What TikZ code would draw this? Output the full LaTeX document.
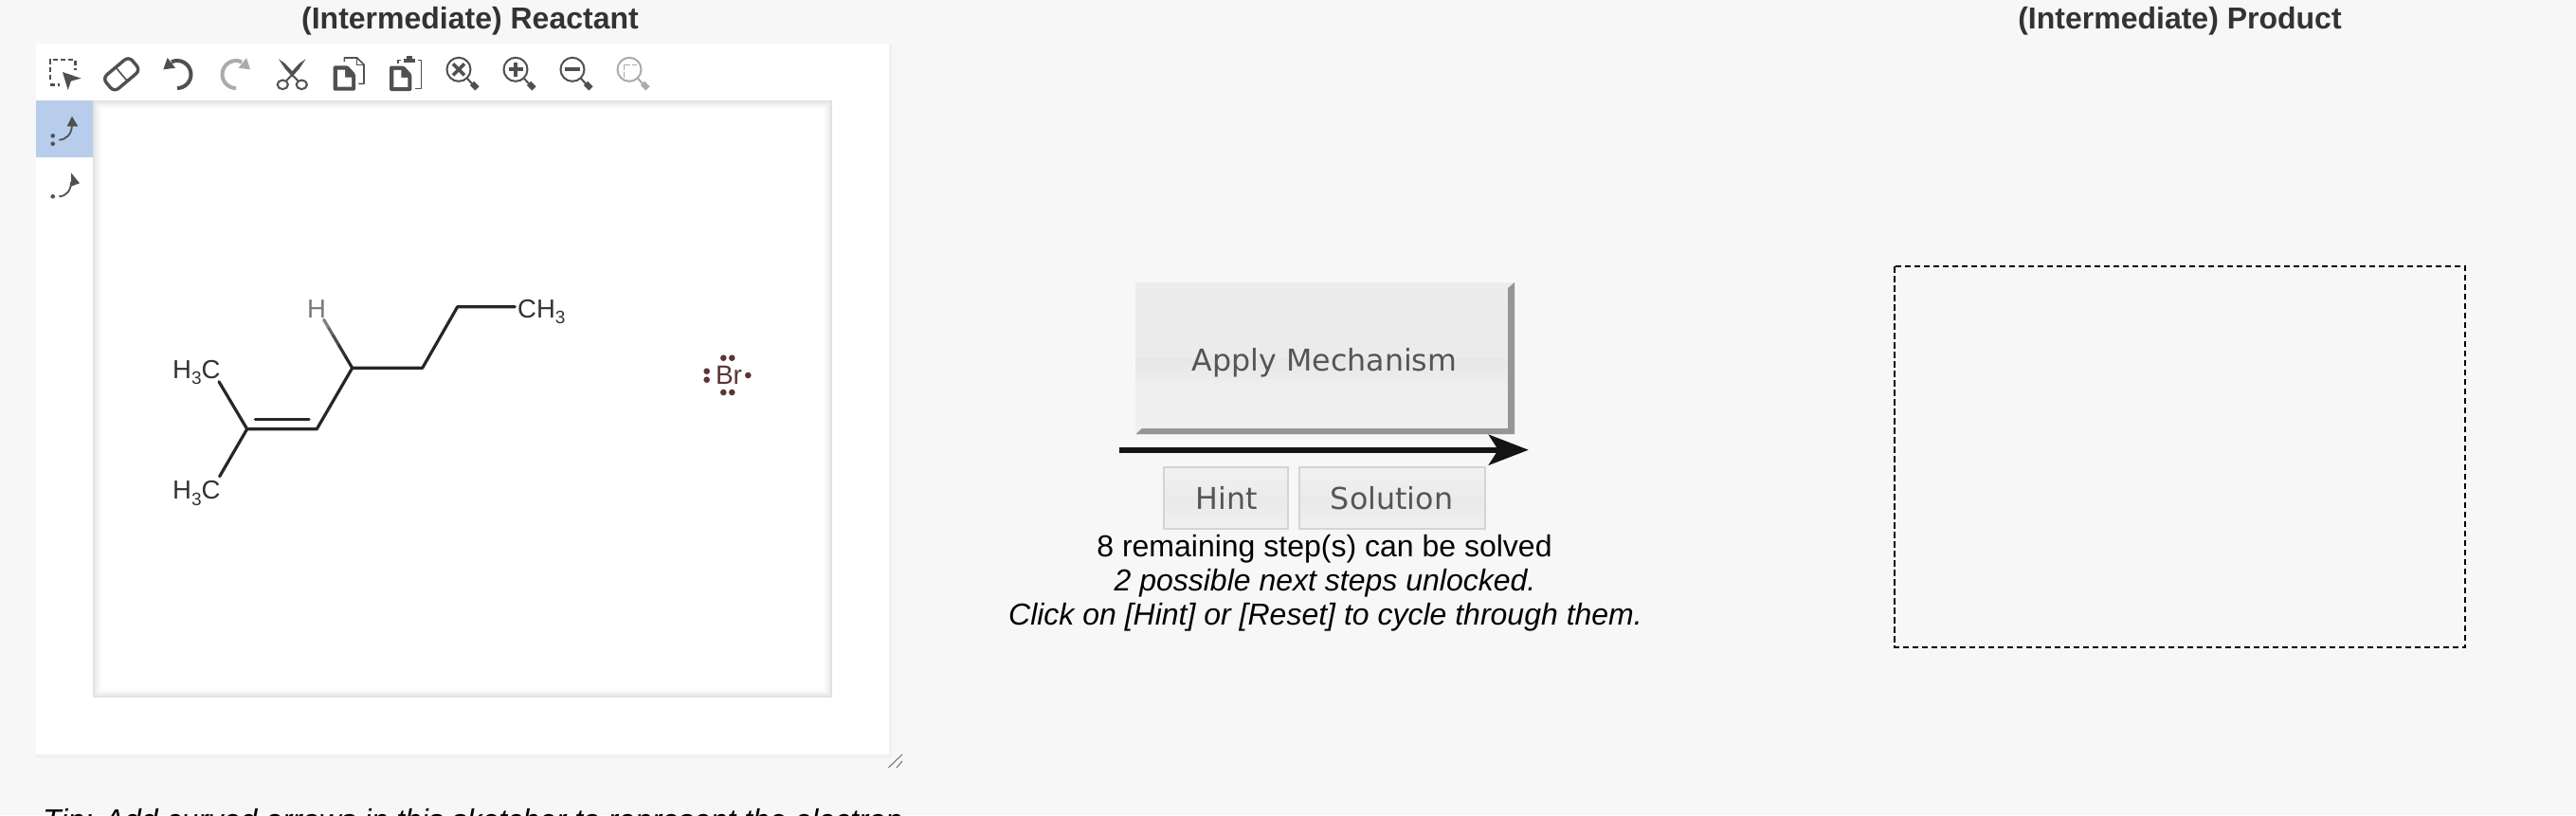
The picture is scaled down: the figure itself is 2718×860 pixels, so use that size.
\documentclass[tikz,border=0pt]{standalone}
\usepackage{fontspec}
\setmainfont{Liberation Sans}
\newfontfamily\dejavu{DejaVu Sans}
\usetikzlibrary{arrows.meta,calc}
\definecolor{pagebg}{HTML}{F7F7F7}
\definecolor{icondark}{HTML}{505050}
\definecolor{icongrey}{HTML}{ABABAB}
\definecolor{titlecol}{HTML}{333333}
\definecolor{btntext}{HTML}{555555}
\definecolor{brcol}{HTML}{5B3535}
\definecolor{selblue}{HTML}{B8CDEC}
\definecolor{atomcol}{HTML}{333333}
\newcommand{\sbt}[1]{\raisebox{-.24em}{\fontsize{19}{19}\selectfont #1}}
\newcommand{\magglass}[2]{%
  \draw[#2,line width=2pt] (#1,73.3) circle[radius=12.5];
  \draw[#2,line width=2pt] (#1+9,73.3+9.5) -- (#1+14,73.3+15);
  \draw[#2,line width=6pt] (#1+14,73.3+14.5) -- (#1+19.5,73.3+20);
}
\tikzset{
  title/.style={font=\bfseries\fontsize{32}{36}\selectfont,text=titlecol,inner sep=0pt,anchor=base},
  btnlabel/.style={font=\dejavu\fontsize{31.7}{36}\selectfont,text=btntext,inner sep=0pt,anchor=base},
  msgline/.style={font=\fontsize{32}{36}\selectfont,text=black,inner sep=0pt,anchor=base},
  msgital/.style={msgline,font=\itshape\fontsize{32}{36}\selectfont},
  atom/.style={font=\fontsize{27.5}{30}\selectfont,text=atomcol,inner sep=0pt,anchor=base west},
  bond/.style={line width=3.2pt,line cap=round,line join=round,draw=black!85},
  lpdot/.style={fill=brcol,draw=none},
  ico/.style={fill=icondark,draw=none},
  icl/.style={draw=icondark,fill=none}
}
\begin{document}
\begin{tikzpicture}[x=1pt,y=-1pt]
\useasboundingbox (0,0) rectangle (2718,860);
\clip (0,0) rectangle (2718,860);
\fill[pagebg] (0,0) rectangle (2718,860);

% ---------- sketcher panel ----------
\fill[black!6] (38,46) rectangle (941,800);
\fill[white] (38,46) rectangle (938,796);
\fill[selblue] (38,106) rectangle (98,166);
% canvas with inset shadow
\foreach \i in {0,...,11}{
  \pgfmathsetmacro\c{12*(1-\i/12)^2}
  \fill[black!\c!white] (98+\i,106+\i) rectangle (878-\i,736-\i);
}

% ---------- titles ----------
\node[title] (reactant) at (496,30) {(Intermediate) Reactant};
\node[title] (product) at (2300,30) {(Intermediate) Product};

% ---------- toolbar ----------
% select
\draw[draw=icondark,line width=2.4pt,dash pattern=on 5pt off 3.2pt] (52.7,84) -- (52.7,62.7) -- (79.3,62.7) -- (79.3,74);
\draw[draw=icondark,line width=2.4pt,dash pattern=on 5pt off 3.2pt] (52.7,89.3) -- (63,89.3);
\fill[icondark] (66,76) -- (85.7,82.7) -- (75,85.5) -- (71.7,95) -- cycle;
% eraser
\begin{scope}[shift={(128.2,78.3)},rotate=40]
  \draw[icl,line width=3.4pt,rounded corners=6pt] (-18,-9.5) rectangle (18,9.5);
  \draw[icl,line width=1.6pt] (0,-9) -- (0,9);
\end{scope}
% undo
\draw[icl,line width=4pt] (187,93) arc[start angle=90,end angle=-115,radius=14.5];
\fill[icondark] (176.7,61) -- (172.3,73.3) -- (185,71.7) -- cycle;
% redo
\draw[draw=icongrey,line width=4pt] (249,93) arc[start angle=90,end angle=295,radius=14.5];
\fill[icongrey] (260,61) -- (264,73.3) -- (251.7,71.7) -- cycle;
% scissors
\foreach \s in {1,-1}{
\begin{scope}[shift={(308.3,0)},xscale=\s]
  \fill[icondark] (-14.3,62.3) -- (-7.5,67) -- (2.2,77.5) -- (-0.3,80.5) -- (-7.5,72.5) -- cycle;
  \draw[icl,line width=2pt] (-1,78) -- (6,85);
  \draw[icl,line width=2pt] (10,89.3) ellipse[x radius=5.6,y radius=4.8];
\end{scope}}
% copy
\draw[icl,line width=1.6pt,line join=round] (363.3,65) -- (363.3,61) -- (376.7,61) -- (384,68.3) -- (384,88.3) -- (378.3,88.3);
\draw[icl,line width=1.4pt] (376.7,61) -- (376.7,68.3) -- (384,68.3);
\fill[ico,rounded corners=1.5pt] (351.7,69.3) -- (367,69.3) -- (375,78) -- (375,95.7) -- (351.7,95.7) -- cycle;
\fill[white] (356,73.5) -- (364,73.5) -- (364,81.5) -- (371,81.5) -- (371,91.5) -- (356,91.5) -- cycle;
% paste
\draw[icl,line width=1.6pt,line join=round] (420,66.5) -- (420,63.3) -- (423,63.3);
\draw[icl,line width=1.6pt,line join=round] (441,63.3) -- (444.3,63.3) -- (444.3,93.3) -- (438.3,93.3);
\fill[ico] (425.7,61.7) rectangle (438.3,65.7);
\fill[ico] (429,59.3) rectangle (435,62);
\fill[ico,rounded corners=1.5pt] (411,69.6) -- (426.3,69.6) -- (434.3,78.3) -- (434.3,96) -- (411,96) -- cycle;
\fill[white] (415.3,73.8) -- (423.3,73.8) -- (423.3,81.8) -- (430.3,81.8) -- (430.3,91.8) -- (415.3,91.8) -- cycle;
% magnifiers
\magglass{484}{icondark}
\draw[icl,line width=3.6pt] (484-6,73.3-6) -- (484+6,73.3+6);
\draw[icl,line width=3.6pt] (484-6,73.3+6) -- (484+6,73.3-6);
\magglass{544}{icondark}
\draw[icl,line width=4pt] (544-7.5,73.3) -- (544+7.5,73.3);
\draw[icl,line width=4pt] (544,73.3-7.5) -- (544,73.3+7.5);
\magglass{604}{icondark}
\draw[icl,line width=4pt] (604-8,73.3) -- (604+8,73.3);
\magglass{664}{icongrey}
\draw[draw=icongrey,line width=1.6pt] (664-5.7,73.3+1) -- (664-5.7,73.3-5) -- (664+0.5,73.3-5);
\draw[draw=icongrey,line width=1.6pt] (664+2.5,73.3-5) -- (664+7.7,73.3-5);
\draw[draw=icongrey,line width=1.6pt] (664-5.7,73.3+3) -- (664-5.7,73.3+8.3);

% ---------- arrow tools ----------
\fill[icondark] (55.7,143.3) circle[radius=2.3];
\fill[icondark] (55.7,151.7) circle[radius=2.3];
\draw[icl,line width=1.8pt] (62.3,147.7) .. controls (70,147) and (75.5,142) .. (76,132);
\fill[icondark] (76,122.7) -- (70.7,133.3) -- (82.3,133.3) -- cycle;
\fill[icondark] (55.7,207.3) circle[radius=2.3];
\draw[icl,line width=1.8pt] (62.3,207.3) .. controls (70,207) and (75,201) .. (75,192);
\fill[icondark] (75,182.3) -- (75,196.7) -- (84,193.3) -- cycle;

% ---------- molecule ----------
\coordinate (c1) at (260.7,452.7);
\coordinate (c2) at (334.3,452.7);
\coordinate (c3) at (371.7,388.3);
\coordinate (c4) at (445.7,388.3);
\coordinate (c5) at (482.7,323.7);
\coordinate (meTopEnd) at (231,402.7);
\coordinate (meBotEnd) at (231.7,502.7);
\coordinate (ch3End) at (543.3,323.7);
\coordinate (hEnd) at (341.7,337.3);
\coordinate (db1) at (269.3,442.3);
\coordinate (db2) at (326,442.3);
\node[atom] (meTop) at (182,399.3) {H\sbt{3}C};
\node[atom] (meBot) at (182,526.7) {H\sbt{3}C};
\node[atom] (ch3) at (546,335) {CH\sbt{3}};
\node[atom,text=black!52] (hAtom) at (324,335) {H};
\draw[bond] (meTopEnd) -- (c1) -- (c2) -- (c3) -- (c4) -- (c5) -- (ch3End);
\draw[bond] (meBotEnd) -- (c1);
\draw[bond] (db1) -- (db2);
\foreach \a/\b/\g in {0/0.25/85,0.25/0.5/80,0.5/0.7/70,0.7/0.85/60,0.85/1/50}{
  \draw[bond,draw=black!\g] ($(c3)!\a!(hEnd)$) -- ($(c3)!\b!(hEnd)$);
}
% bromine radical
\node[font=\fontsize{28}{30}\selectfont,text=brcol,inner sep=0pt,anchor=base] (br) at (769,405.7) {Br};
\foreach \p in {(763.3,377.7),(772.3,377.7),(763.3,414),(772.3,414),(745.7,391.7),(745.7,400.7),(789.3,396)}{
  \fill[lpdot] \p circle[radius=3.3];
}

% ---------- resize handle ----------
\draw[draw=black!60,line width=0.9pt] (937.5,810) -- (952,796);
\draw[draw=black!60,line width=0.9pt] (946,810) -- (952,803);

% ---------- apply button ----------
\fill[top color=black!7.5,bottom color=black!8] (1198.5,298) rectangle (1598,378);
\fill[top color=black!9.5,bottom color=black!7] (1198.5,378) rectangle (1598,403);
\fill[top color=black!6.5,bottom color=black!6] (1198.5,403) rectangle (1598,458);
\fill[black!41] (1598,298) -- (1598,458) -- (1198.5,458) -- (1205,452) -- (1591,452) -- (1591,304) -- cycle;
\node[btnlabel] (apply) at (1397.5,391.7) {Apply Mechanism};

% ---------- reaction arrow ----------
\coordinate (arrowStart) at (1180.6,474.7);
\coordinate (arrowEnd) at (1612.8,474.7);
\draw[-{Stealth[length=42pt,width=32pt,inset=10pt]},line width=6pt,black!92] (arrowStart) -- (arrowEnd);

% ---------- hint and solution ----------
\foreach \xa/\xb in {1227.5/1359,1371/1567}{
  \fill[top color=black!5.5,bottom color=black!8] (\xa,493) rectangle (\xb,526);
  \fill[top color=black!8.5,bottom color=black!6] (\xa,526) rectangle (\xb,558);
  \draw[draw=black!17,line width=2pt] (\xa,493) rectangle (\xb,558);
}
\node[btnlabel] (hint) at (1294,537.3) {Hint};
\node[btnlabel] (solution) at (1468.5,537.3) {Solution};

% ---------- messages ----------
\node[msgline] (msgA) at (1397.5,587) {8 remaining step(s) can be solved};
\node[msgital] (msgB) at (1398,623) {2 possible next steps unlocked.};
\node[msgital] (msgC) at (1398.5,659) {Click on [Hint] or [Reset] to cycle through them.};

% ---------- product box ----------
\draw[draw=black,line width=2pt,dash pattern=on 6.5pt off 3.5pt] (1999,281) rectangle (2601,682.5);

% ---------- tip ----------
\node[font=\itshape\fontsize{31.9}{36}\selectfont,text=black,inner sep=0pt,anchor=base west] (tip) at (45,876) {Tip: Add curved arrows in this sketcher to represent the electron};
\end{tikzpicture}
\end{document}
